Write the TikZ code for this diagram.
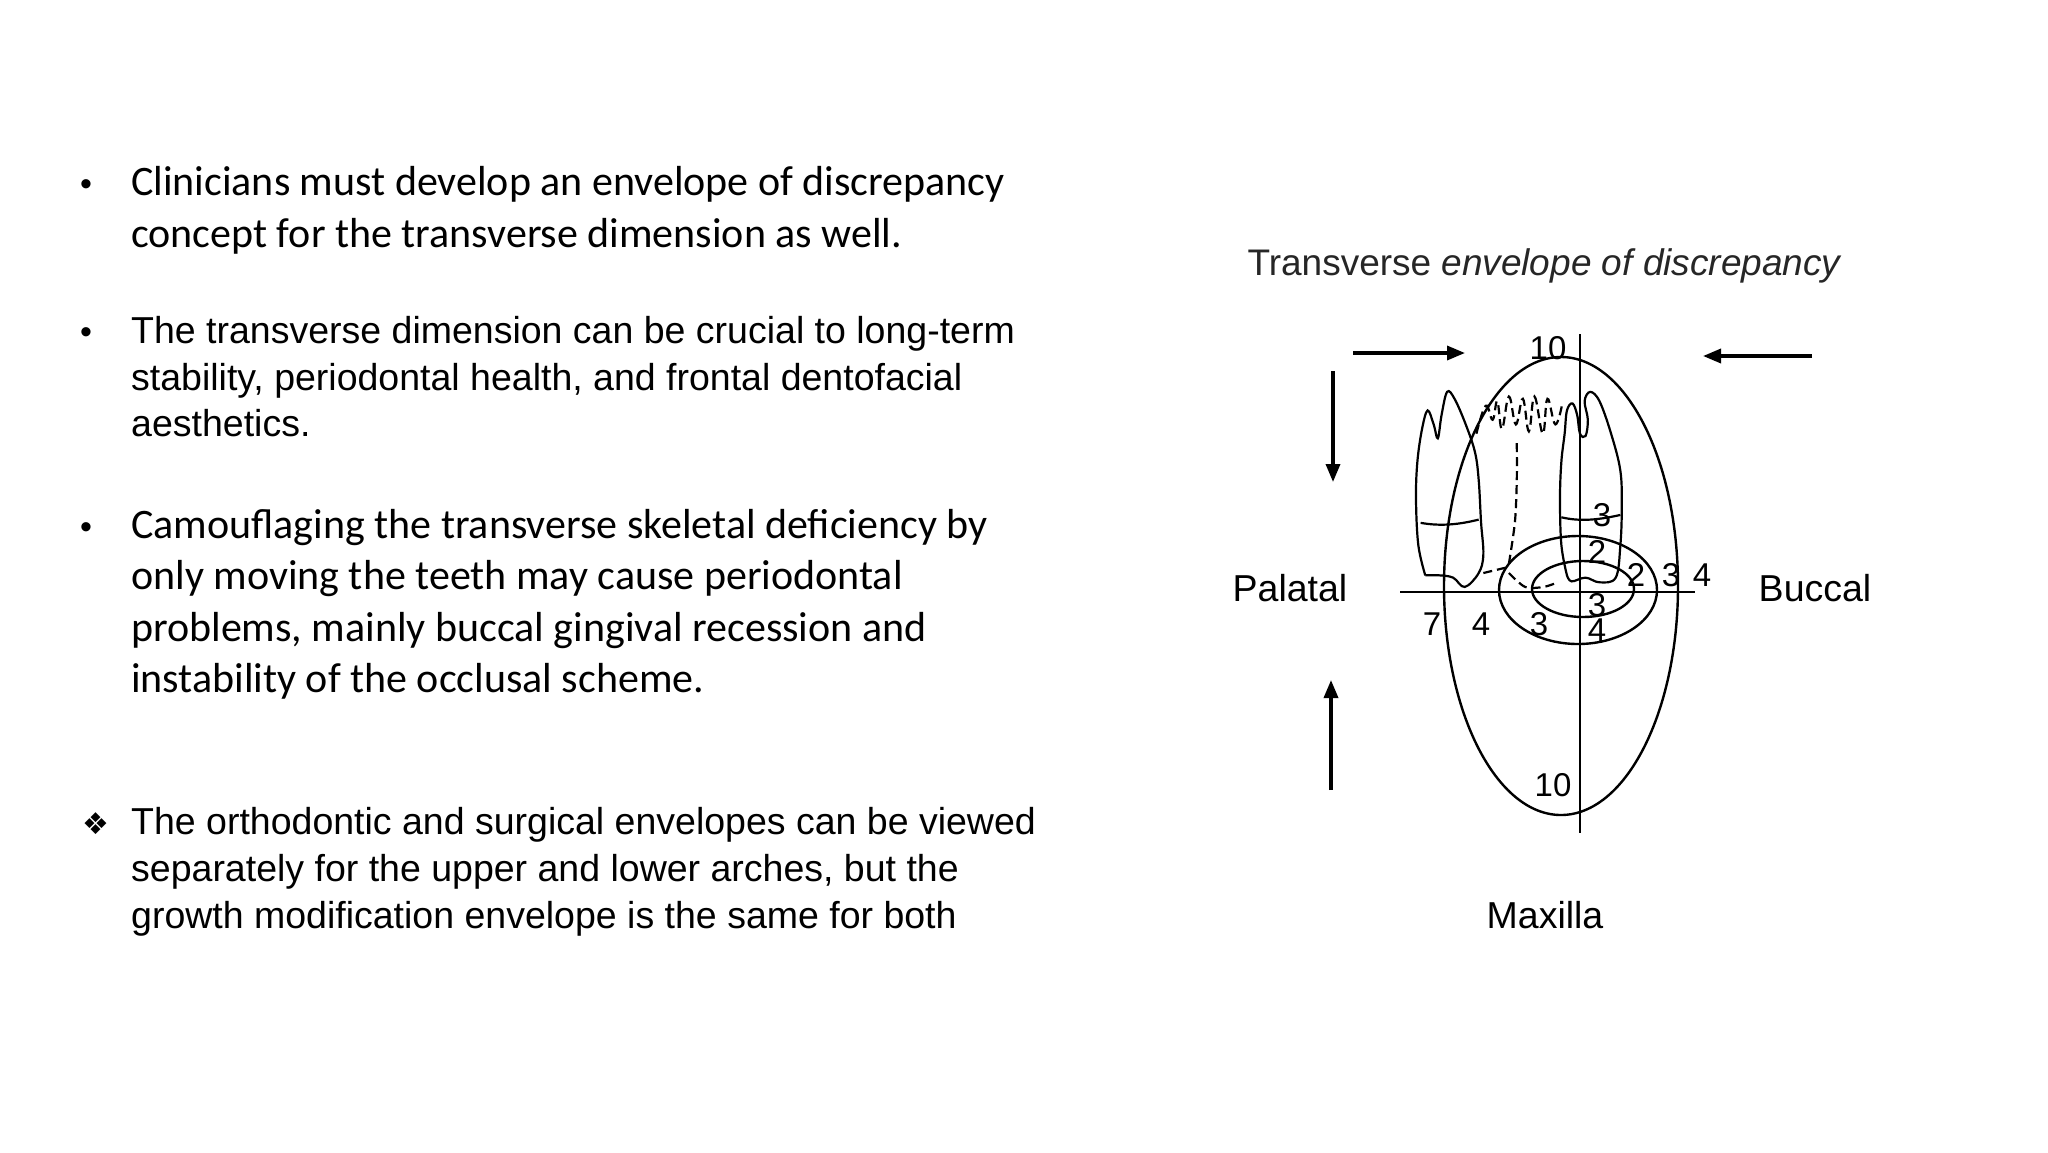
\documentclass[tikz,border=0pt]{standalone}
\usepackage{fontspec}
\setmainfont{Carlito}
\newfontfamily\arial{Liberation Sans}
\newfontfamily\dejavu{DejaVu Sans}
\usetikzlibrary{arrows.meta}
\begin{document}
\begin{tikzpicture}[x=1pt,y=-1pt,
  cal/.style={anchor=base west,inner sep=0,font=\fontsize{42}{48}\selectfont},
  ari/.style={anchor=base west,inner sep=0,font=\arial\fontsize{37.5}{42}\selectfont},
  blt/.style={anchor=base west,inner sep=0,font=\arial\fontsize{34}{40}\selectfont},
  dg/.style={inner sep=0,font=\arial\fontsize{33}{38}\selectfont},
  lab/.style={inner sep=0,font=\arial\fontsize{37.5}{42}\selectfont},
  arr/.style={line width=3.4pt,-{Triangle[length=18pt,width=14pt]}},
  ln/.style={line width=2.4pt},
  dsh/.style={dash pattern=on 9pt off 5pt}]
\useasboundingbox[fill=white] (0,0) rectangle (2048,1152);
% bullets
\node[blt] (b1) at (80,195) {•};
\node[cal] (l11) at (131,195) {Clinicians must develop an envelope of discrepancy};
\node[cal] (l12) at (131,247) {concept for the transverse dimension as well.};
\node[blt] (b2) at (80,343) {•};
\node[ari] (l21) at (131,343) {The transverse dimension can be crucial to long-term};
\node[ari] (l22) at (131,390) {stability, periodontal health, and frontal dentofacial};
\node[ari] (l23) at (131,436) {aesthetics.};
\node[blt] (b3) at (80,538) {•};
\node[cal] (l31) at (131,538) {Camouflaging the transverse skeletal deficiency by};
\node[cal] (l32) at (131,589) {only moving the teeth may cause periodontal};
\node[cal] (l33) at (131,641) {problems, mainly buccal gingival recession and};
\node[cal] (l34) at (131,692) {instability of the occlusal scheme.};
\node[anchor=base west,inner sep=0,font=\dejavu\fontsize{30}{34}\selectfont] (b4) at (82,834) {❖};
\node[ari] (l41) at (131,834) {The orthodontic and surgical envelopes can be viewed};
\node[ari] (l42) at (131,881) {separately for the upper and lower arches, but the};
\node[ari] (l43) at (131,928) {growth modification envelope is the same for both};
% diagram
\node[anchor=base,inner sep=0,font=\arial\fontsize{37}{42}\selectfont,text=black!85] (title) at (1545,275) {Transverse \textit{envelope of discrepancy}};
\draw[ln] (1580,334) -- (1580,833);
\draw[ln] (1400,592) -- (1695,592);
\draw[ln] (1561,586) ellipse[x radius=117,y radius=229];
\draw[ln] (1578,590) ellipse[x radius=79,y radius=54];
\draw[ln] (1583,589) ellipse[x radius=51,y radius=28];
\node[dg] (t10) at (1548,348) {10};
\node[dg] (b10) at (1553,785) {10};
\node[dg] (n7) at (1432,624) {7};
\node[dg] (n4a) at (1481,624) {4};
\node[dg] (n3a) at (1539,624) {3};
\node[dg] (n4b) at (1597,630) {4};
\node[dg] (n3b) at (1597,605) {3};
\node[dg] (n3c) at (1602,515) {3};
\node[dg] (n2a) at (1597,552) {2};
\node[dg] (n2b) at (1636,575) {2};
\node[dg] (n3d) at (1671,575) {3};
\node[dg] (n4c) at (1702,575) {4};
\node[lab] (pal) at (1290,588) {Palatal};
\node[lab] (buc) at (1815,588) {Buccal};
\node[lab] (max) at (1545,915) {Maxilla};
\coordinate (a1s) at (1353,353); \coordinate (a1e) at (1465,353);
\coordinate (a2s) at (1812,356); \coordinate (a2e) at (1703,356);
\coordinate (a3s) at (1333,371); \coordinate (a3e) at (1333,482);
\coordinate (a4s) at (1331,790); \coordinate (a4e) at (1331,680);
\draw[arr] (a1s) -- (a1e);
\draw[arr] (a2s) -- (a2e);
\draw[arr] (a3s) -- (a3e);
\draw[arr] (a4s) -- (a4e);
% teeth (drawn in zoom coordinates)
\begin{scope}[shift={(1200,220)},x=0.4645pt,y=-0.4645pt,line width=2.2pt]
 \draw plot[smooth,tension=0.6] coordinates {(485,765) (470,700) (465,600) (468,520) (478,450) (490,410) (503,440) (512,470) (520,420) (532,370) (548,385) (572,440) (592,500) (600,560) (605,650) (610,720) (600,760) (570,790) (545,770) (515,765) (485,765)};
 \draw (475,652) .. controls (520,660) and (560,655) .. (600,645);
 \draw[dsh] (610,760) -- (660,748);
 \draw[dsh] plot[smooth] coordinates {(665,740) (678,650) (682,560) (682,480)};
 \draw[dsh] plot[smooth,tension=0.7] coordinates {(595,460) (615,400) (630,430) (640,390) (650,450) (665,380) (680,440) (695,385) (708,455) (720,380) (738,460) (748,385) (765,440) (780,395)};
 \draw plot[smooth,tension=0.6] coordinates {(790,765) (778,700) (775,600) (778,520) (785,460) (790,410) (802,395) (812,420) (818,460) (830,465) (835,430) (828,390) (840,370) (860,390) (885,460) (905,540) (908,620) (905,700) (895,770) (860,780) (830,770) (800,778) (790,765)};
 \draw (778,640) .. controls (820,650) and (860,645) .. (905,635);
 \draw[dsh] plot[smooth] coordinates {(665,760) (700,790) (740,790) (770,780)};
\end{scope}
\end{tikzpicture}
\end{document}
